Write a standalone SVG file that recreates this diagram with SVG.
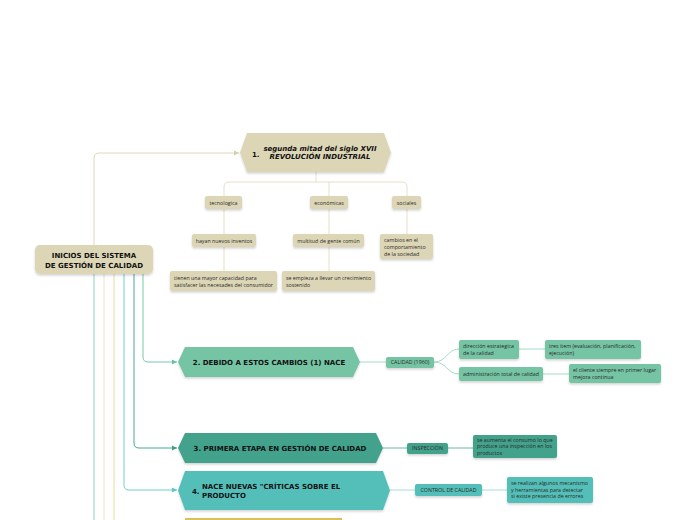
<svg xmlns="http://www.w3.org/2000/svg" width="697" height="520" viewBox="0 0 697 520">
<defs>
<filter id="sh" x="-10%" y="-20%" width="120%" height="150%">
<feDropShadow dx="0" dy="1.5" stdDeviation="1.2" flood-color="#000" flood-opacity="0.18"/>
</filter>
<marker id="aB" markerWidth="6" markerHeight="6" refX="5" refY="3" orient="auto" markerUnits="userSpaceOnUse"><path d="M0,0.5 L5,3 L0,5.5 Z" fill="#d8cfa9"/></marker>
<marker id="aG" markerWidth="6" markerHeight="6" refX="5" refY="3" orient="auto" markerUnits="userSpaceOnUse"><path d="M0,0.5 L5,3 L0,5.5 Z" fill="#6cc19f"/></marker>
<marker id="aD" markerWidth="6" markerHeight="6" refX="5" refY="3" orient="auto" markerUnits="userSpaceOnUse"><path d="M0,0.5 L5,3 L0,5.5 Z" fill="#3f9f89"/></marker>
<marker id="aT" markerWidth="6" markerHeight="6" refX="5" refY="3" orient="auto" markerUnits="userSpaceOnUse"><path d="M0,0.5 L5,3 L0,5.5 Z" fill="#5cc7c0"/></marker>
</defs>
<style>
.c{fill:none;stroke-width:1}
.big{font-family:"DejaVu Sans",Verdana,sans-serif;font-weight:bold;font-size:7px;fill:#111}
.sm{font-family:"Open Sans","DejaVu Sans",sans-serif;font-size:5.3px;fill:#2a2a2a}
.beige{fill:#ddd6b6}
.green{fill:#74c4a4}
.dark{fill:#42a28c}
.teal{fill:#52bfb8}
</style>
<rect width="697" height="520" fill="#ffffff"/>
<g id="connectors">
<path class="c" stroke="#e0d8bc" d="M94,245 V158 Q94,153 99,153 H239" marker-end="url(#aB)"/>
<path class="c" stroke="#79c9a9" d="M143,274 V357 Q143,362 148,362 H177" marker-end="url(#aG)"/>
<path class="c" stroke="#4aa893" d="M134,274 V443 Q134,448 139,448 H177" marker-end="url(#aD)"/>
<path class="c" stroke="#6fd0c9" d="M124,274 V485 Q124,490 129,490 H177" marker-end="url(#aT)"/>
<path class="c" stroke="#8bd3c1" d="M94,274 V520"/>
<path class="c" stroke="#e8e2cc" d="M104,274 V520"/>
<path class="c" stroke="#ecd99a" d="M114,274 V520"/>
<g stroke="#e6dfc8" class="c">
<path d="M316,172 V182"/>
<path d="M224,196 V187 Q224,182 229,182 H402 Q407,182 407,187 V196"/>
<path d="M329,182 V196"/>
<path d="M224,209 V234 M224,247 V271"/>
<path d="M329,209 V234 M329,247 V271"/>
<path d="M407,209 V234"/>
</g>
<g stroke="#a6dbc6" class="c">
<path d="M360,362 H386"/>
<path d="M434,362 C447,362 447,349 459,349"/>
<path d="M434,362 C447,362 447,374 459,374"/>
<path d="M519,349 H545"/>
<path d="M543,374 H569"/>
</g>
<g stroke="#66b9a6" class="c">
<path d="M383,448 H407"/>
<path d="M448,448 H473"/>
</g>
<g stroke="#a2e0db" class="c">
<path d="M390,490 H415"/>
<path d="M482,490 H507"/>
</g>
</g>
<g id="root">
<rect class="beige" x="35" y="245" width="118" height="29" rx="5" filter="url(#sh)"/>
<text class="big" x="94" y="258" text-anchor="middle">INICIOS DEL SISTEMA</text>
<text class="big" x="94" y="268" text-anchor="middle">DE GESTIÓN DE CALIDAD</text>
</g>
<g id="node1">
<path class="beige" d="M240,152.5 L247,133 H384 L391,152.5 L384,172 H247 Z" filter="url(#sh)"/>
<text class="big" x="252" y="157">1.</text>
<text class="big" x="320" y="151" text-anchor="middle" font-style="italic">segunda mitad del siglo XVII</text>
<text class="big" x="320" y="159" text-anchor="middle" font-style="italic">REVOLUCIÓN INDUSTRIAL</text>
</g>
<g id="tecnologica">
<rect class="beige" x="205" y="196" width="37" height="13" rx="2" filter="url(#sh)"/>
<text class="sm" x="223.5" y="204.5" text-anchor="middle">tecnologica</text>
</g>
<g id="economicas">
<rect class="beige" x="310" y="196" width="38" height="13" rx="2" filter="url(#sh)"/>
<text class="sm" x="329" y="204.5" text-anchor="middle">económicas</text>
</g>
<g id="sociales">
<rect class="beige" x="392" y="196" width="29" height="13" rx="2" filter="url(#sh)"/>
<text class="sm" x="406.5" y="204.5" text-anchor="middle">sociales</text>
</g>
<g id="inventos">
<rect class="beige" x="192" y="234" width="64" height="13" rx="2" filter="url(#sh)"/>
<text class="sm" x="224" y="242.5" text-anchor="middle">hayan nuevos inventos</text>
</g>
<g id="multitud">
<rect class="beige" x="293" y="234" width="71" height="13" rx="2" filter="url(#sh)"/>
<text class="sm" x="328.5" y="242.5" text-anchor="middle">multitud de gente común</text>
</g>
<g id="cambios">
<rect class="beige" x="380" y="234" width="53" height="25" rx="2" filter="url(#sh)"/>
<text class="sm" x="384" y="241.5">cambios en el</text>
<text class="sm" x="384" y="248.5">comportamiento</text>
<text class="sm" x="384" y="255.5">de la sociedad</text>
</g>
<g id="capacidad">
<rect class="beige" x="170" y="271" width="107" height="20" rx="2" filter="url(#sh)"/>
<text class="sm" x="174" y="279.5">tienen una mayor capacidad para</text>
<text class="sm" x="174" y="286.5">satisfacer las necesades del consumidor</text>
</g>
<g id="crecimiento">
<rect class="beige" x="282" y="271" width="93" height="20" rx="2" filter="url(#sh)"/>
<text class="sm" x="286" y="279.5">se empieza a llevar un crecimiento</text>
<text class="sm" x="286" y="286.5">sostenido</text>
</g>
<g id="node2">
<path class="green" d="M178,362 L185,347 H353 L360,362 L353,377 H185 Z" filter="url(#sh)"/>
<text class="big" x="269" y="365" text-anchor="middle">2. DEBIDO A ESTOS CAMBIOS (1) NACE</text>
</g>
<g id="calidad1960">
<rect class="green" x="386" y="357" width="48" height="11" rx="2" filter="url(#sh)"/>
<text class="sm" x="410" y="364.3" text-anchor="middle">CALIDAD (1960)</text>
</g>
<g id="direccion">
<rect class="green" x="459" y="340" width="60" height="19" rx="2" filter="url(#sh)"/>
<text class="sm" x="463" y="348">dirección estrategica</text>
<text class="sm" x="463" y="355">de la calidad</text>
</g>
<g id="tresitem">
<rect class="green" x="545" y="340" width="96" height="19" rx="2" filter="url(#sh)"/>
<text class="sm" x="549" y="348">tres item (evaluación, planificación,</text>
<text class="sm" x="549" y="355">ejecución)</text>
</g>
<g id="administracion">
<rect class="green" x="459" y="367" width="84" height="14" rx="2" filter="url(#sh)"/>
<text class="sm" x="463" y="375.7">administración total de calidad</text>
</g>
<g id="cliente">
<rect class="green" x="569" y="364" width="92" height="19" rx="2" filter="url(#sh)"/>
<text class="sm" x="573" y="372">el cliente siempre en primer lugar</text>
<text class="sm" x="573" y="379">mejora continua</text>
</g>
<g id="node3">
<path class="dark" d="M178,448 L185,433 H376 L383,448 L376,463 H185 Z" filter="url(#sh)"/>
<text class="big" x="280" y="451" text-anchor="middle">3. PRIMERA ETAPA EN GESTIÓN DE CALIDAD</text>
</g>
<g id="inspeccion">
<rect class="dark" x="407" y="443" width="41" height="11" rx="2" filter="url(#sh)"/>
<text class="sm" x="427.5" y="450.3" text-anchor="middle">INSPECCIÓN</text>
</g>
<g id="consumo">
<rect class="dark" x="473" y="435" width="84" height="23" rx="2" filter="url(#sh)"/>
<text class="sm" x="477" y="441.5">se aumenta el consumo lo que</text>
<text class="sm" x="477" y="448.2">produce una inspección en los</text>
<text class="sm" x="477" y="454.9">productos</text>
</g>
<g id="node4">
<path class="teal" d="M178,490.5 L185,471 H383 L390,490.5 L383,510 H185 Z" filter="url(#sh)"/>
<text class="big" x="192" y="494">4.</text>
<text class="big" x="202" y="489">NACE NUEVAS "CRÍTICAS SOBRE EL</text>
<text class="big" x="202" y="498">PRODUCTO</text>
</g>
<g id="control">
<rect class="teal" x="415" y="484" width="67" height="12" rx="2" filter="url(#sh)"/>
<text class="sm" x="448.5" y="491.8" text-anchor="middle">CONTROL DE CALIDAD</text>
</g>
<g id="mecanismo">
<rect class="teal" x="507" y="477" width="86" height="26" rx="2" filter="url(#sh)"/>
<text class="sm" x="511" y="485">se realizan algunos mecanismo</text>
<text class="sm" x="511" y="491.7">y herramientas para detectar</text>
<text class="sm" x="511" y="498.4">si existe presencia de errores</text>
</g>
<g id="node5">
<rect x="185" y="518" width="157" height="4" fill="#d9c05a"/>
</g>
</svg>
